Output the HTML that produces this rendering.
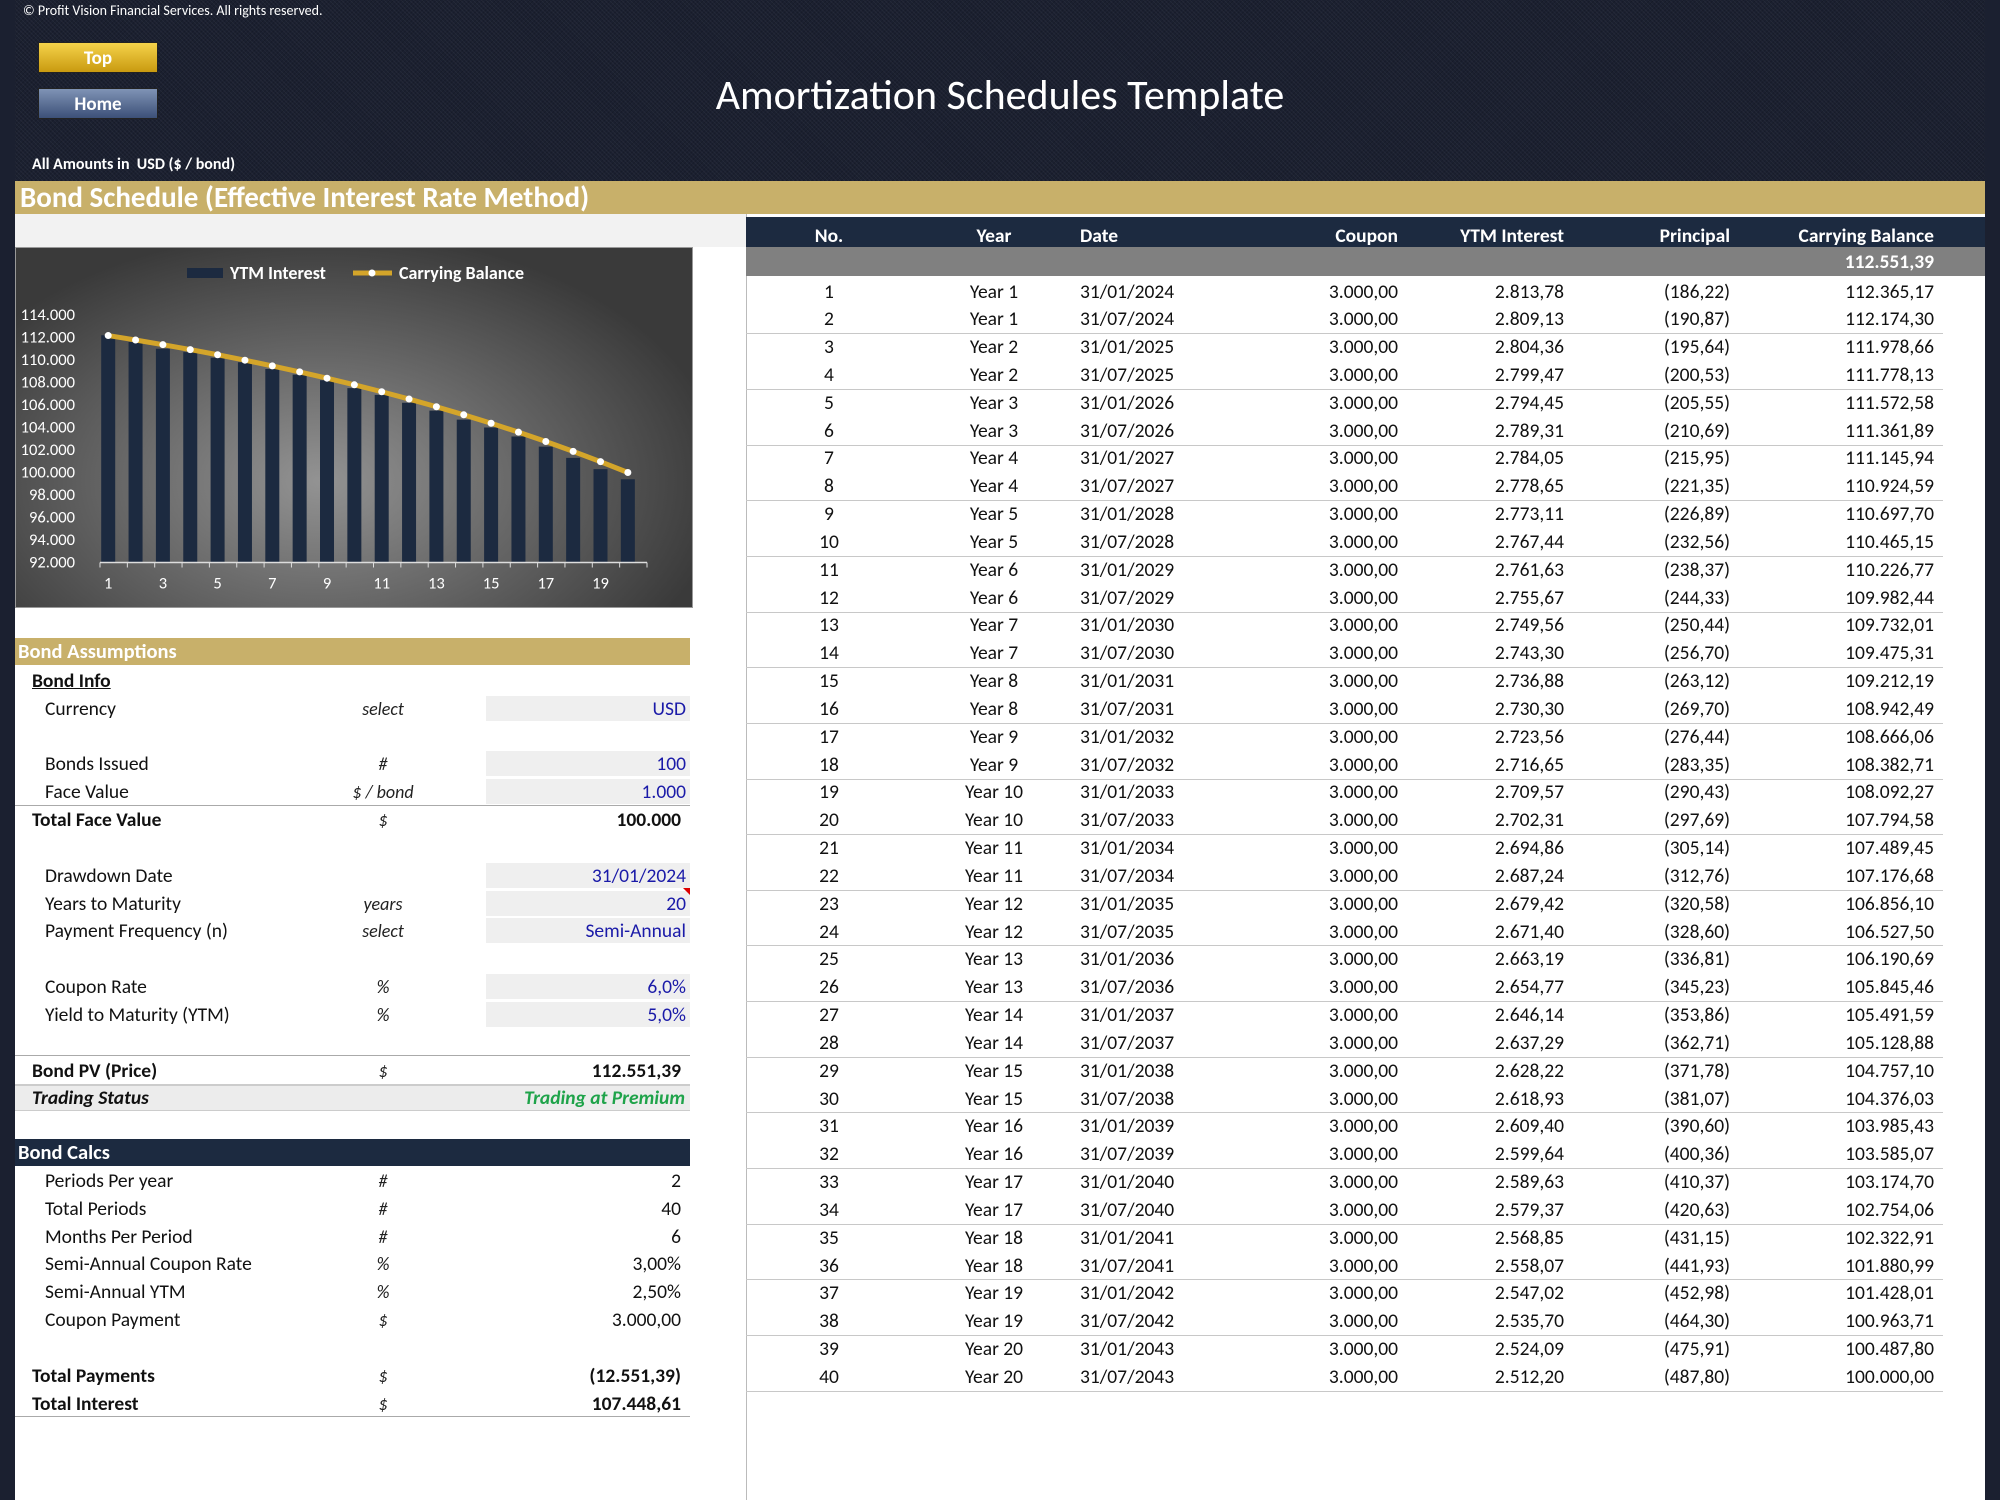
<!DOCTYPE html>
<html><head><meta charset="utf-8">
<style>
*{margin:0;padding:0;box-sizing:border-box}
body{width:2000px;height:1500px;position:relative;overflow:hidden;background:#fff;font-family:Calibri,"Liberation Sans",sans-serif;}
.abs{position:absolute}
#topbg{left:0;top:0;width:2000px;height:181px;background:#1b2030;background-image:repeating-linear-gradient(45deg,rgba(255,255,255,0.04) 0 1px,transparent 1px 3px),repeating-linear-gradient(-45deg,rgba(0,0,0,0.15) 0 1px,transparent 1px 3px)}
#leftstrip{left:0;top:0;width:15px;height:1500px;background:#1b2030}
#rightstrip{left:1985px;top:0;width:15px;height:1500px;background:#1b2030}
.btn{position:absolute;left:38px;width:120px;height:31px;color:#fff;font-weight:bold;font-size:19px;text-align:center;line-height:31px;border:1px solid #222}
.lbl{position:absolute;font-size:19.5px;color:#111;white-space:nowrap;transform:translateY(-50%)}
.unit{position:absolute;font-size:18px;font-style:italic;color:#222;transform:translate(-50%,-50%)}
.val{position:absolute;font-size:19.5px;color:#111;text-align:right;transform:translateY(-50%);white-space:nowrap}
.blue{color:#1a1aa8}
.tcell{position:absolute;font-size:19.5px;color:#111;white-space:nowrap;transform:translateY(-50%)}
</style></head><body>
<div class="abs" id="topbg"></div>
<div class="abs" id="leftstrip"></div>
<div class="abs" id="rightstrip"></div>
<div class="abs" style="left:23px;top:2px;color:#fff;font-size:14px">© Profit Vision Financial Services. All rights reserved.</div>
<div class="btn" style="top:42px;background:linear-gradient(#f5d34a,#c99a10);color:#fff">Top</div>
<div class="btn" style="top:88px;background:linear-gradient(#7f93b5,#3c5078)">Home</div>
<div class="abs" style="left:0;width:2000px;top:70px;text-align:center;color:#fff;font-size:42px">Amortization Schedules Template</div>
<div class="abs" style="left:32px;top:155px;color:#fff;font-size:16px;font-weight:bold">All Amounts in&nbsp; USD ($ / bond)</div>
<div class="abs" style="left:15px;top:181px;width:1970px;height:33px;background:#c8b06a;color:#fff;font-weight:bold;font-size:29px;line-height:33px;padding-left:5px">Bond Schedule (Effective Interest Rate Method)</div>
<div class="abs" style="left:15px;top:214px;width:731px;height:33px;background:#f2f2f2"></div>
<div class="abs" style="left:746px;top:214px;width:1px;height:1286px;background:#bbb"></div>

<div class="abs" style="left:15px;top:247px;width:678px;height:361px;border:1px solid #999;background:radial-gradient(ellipse 60% 70% at 45% 65%,#939393,#3a3a3a)">
<svg id="chart" width="678" height="361" style="position:absolute;left:-1px;top:-1px"></svg>
</div>

<div class="abs" style="left:746px;top:217px;width:1239px;height:30px;background:#1c2a40"></div>
<div class="abs" style="left:746px;top:247px;width:1239px;height:29px;background:#808080"></div>
<div class="abs" style="left:1700px;width:234px;top:250px;text-align:right;color:#fff;font-weight:bold;font-size:19.5px">112.551,39</div>
<div id="tbl"></div>

<div class="abs" style="left:15px;top:638px;width:675px;height:27px;background:#c8b06a;color:#fff;font-weight:bold;font-size:20.5px;line-height:27px;padding-left:3px">Bond Assumptions</div>
<div class="abs" style="left:15px;top:1139px;width:675px;height:27px;background:#1c2a40;color:#fff;font-weight:bold;font-size:20.5px;line-height:27px;padding-left:3px">Bond Calcs</div>
<div class="abs" style="left:15px;top:1084px;width:675px;height:27px;background:#ececec;border-top:2px solid #ccc;border-bottom:1px solid #ccc"></div>
<div id="left"></div>

<script>
const categories=[1,2,3,4,5,6,7,8,9,10,11,12,13,14,15,16,17,18,19,20];
const barValues=[112200,111600,111000,110700,110200,109800,109200,108700,108200,107500,106900,106200,105500,104700,104000,103200,102300,101300,100300,99400];
const lineValues=[112174,111778,111362,110925,110465,109982,109475,108942,108383,107795,107177,106528,105845,105129,104376,103585,102754,101881,100964,100000];
const yTicks=[92000,94000,96000,98000,100000,102000,104000,106000,108000,110000,112000,114000];
const xTickLabels=["1","3","5","7","9","11","13","15","17","19"];
const NS="http://www.w3.org/2000/svg";
const svg=document.getElementById('chart');
const X0=85,X1=632,Y0=315.5,Y1=68,YMIN=92000,YMAX=114000;
const band=(X1-X0)/categories.length;
const xs=i=>X0+band*(i+0.3);
const ys=v=>Y0-(v-YMIN)/(YMAX-YMIN)*(Y0-Y1);
function mk(t,a){const e=document.createElementNS(NS,t);for(const k in a)e.setAttribute(k,a[k]);svg.appendChild(e);return e;}
yTicks.forEach(v=>{const t=mk('text',{x:60,y:ys(v)+5,'text-anchor':'end',fill:'#fff','font-size':16.5,'font-family':'Calibri,Liberation Sans,sans-serif'});t.textContent=String(v).replace(/\B(?=(\d{3})+(?!\d))/g,'.');

});
barValues.forEach((v,i)=>{const r=mk('rect',{x:xs(i)-7,y:ys(v),width:14,height:Y0-ys(v),fill:'#1c2a40'});

});
const ax=mk('line',{x1:X0,x2:X1,y1:Y0,y2:Y0,stroke:'#ddd','stroke-width':1.5});


for(let i=0;i<=categories.length;i++){const tk=mk('line',{x1:X0+band*i,x2:X0+band*i,y1:Y0,y2:Y0+5,stroke:'#ddd'});

}
xTickLabels.forEach((s,j)=>{const t=mk('text',{x:xs(j*2),y:Y0+26,'text-anchor':'middle',fill:'#fff','font-size':16.5,'font-family':'Calibri,Liberation Sans,sans-serif'});t.textContent=s;

});
const pl=mk('polyline',{points:lineValues.map((v,i)=>xs(i)+','+ys(v)).join(' '),fill:'none',stroke:'#d4a52a','stroke-width':5});


lineValues.forEach((v,i)=>{const c=mk('circle',{cx:xs(i),cy:ys(v),r:3.5,fill:'#fff'});

});
const lb=mk('rect',{x:172,y:21,width:36,height:10,fill:'#1c2a40'});


const lt1=mk('text',{x:215,y:32,fill:'#fff','font-size':18,'font-weight':'bold','font-family':'Calibri,Liberation Sans,sans-serif'});lt1.textContent='YTM Interest';


const ll=mk('line',{x1:338,x2:377,y1:26,y2:26,stroke:'#d4a52a','stroke-width':5});


mk('circle',{cx:357,cy:26,r:3.5,fill:'#fff'});
const lt2=mk('text',{x:384,y:32,fill:'#fff','font-size':18,'font-weight':'bold','font-family':'Calibri,Liberation Sans,sans-serif'});lt2.textContent='Carrying Balance';



const ytm=[2813.78,2809.13,2804.36,2799.47,2794.45,2789.31,2784.05,2778.65,2773.11,2767.44,2761.63,2755.67,2749.56,2743.30,2736.88,2730.30,2723.56,2716.65,2709.57,2702.31,2694.86,2687.24,2679.42,2671.40,2663.19,2654.77,2646.14,2637.29,2628.22,2618.93,2609.40,2599.64,2589.63,2579.37,2568.85,2558.07,2547.02,2535.70,2524.09,2512.20];
const principal=[186.22,190.87,195.64,200.53,205.55,210.69,215.95,221.35,226.89,232.56,238.37,244.33,250.44,256.70,263.12,269.70,276.44,283.35,290.43,297.69,305.14,312.76,320.58,328.60,336.81,345.23,353.86,362.71,371.78,381.07,390.60,400.36,410.37,420.63,431.15,441.93,452.98,464.30,475.91,487.80];
const balance=[112365.17,112174.30,111978.66,111778.13,111572.58,111361.89,111145.94,110924.59,110697.70,110465.15,110226.77,109982.44,109732.01,109475.31,109212.19,108942.49,108666.06,108382.71,108092.27,107794.58,107489.45,107176.68,106856.10,106527.50,106190.69,105845.46,105491.59,105128.88,104757.10,104376.03,103985.43,103585.07,103174.70,102754.06,102322.91,101880.99,101428.01,100963.71,100487.80,100000.00];
const coupon=3000;
function fmt(v){const s=Math.abs(v).toFixed(2).split('.');return s[0].replace(/\B(?=(\d{3})+(?!\d))/g,'.')+','+s[1];}
const tbl=document.getElementById('tbl');
function cell(parent,txt,css,name){const d=document.createElement('div');d.className='tcell';d.style.cssText=css;d.textContent=txt;


parent.appendChild(d);return d;}
[['No.','left:789px;width:80px;text-align:center'],['Year','left:944px;width:100px;text-align:center'],['Date','left:1080px'],['Coupon','left:1248px;width:150px;text-align:right'],['YTM Interest','left:1394px;width:170px;text-align:right'],['Principal','left:1580px;width:150px;text-align:right'],['Carrying Balance','left:1714px;width:220px;text-align:right']].forEach(h=>{
cell(tbl,h[0],h[1]+';top:236px;color:#fff;font-weight:bold','column-header');});
for(let i=0;i<40;i++){const y=291.5+i*27.83;
const yr=2024+Math.floor(i/2);
cell(tbl,String(i+1),`left:789px;width:80px;text-align:center;top:${y}px`,'row-number');
cell(tbl,'Year '+(Math.floor(i/2)+1),`left:944px;width:100px;text-align:center;top:${y}px`,'row-year');
cell(tbl,(i%2?'31/07/':'31/01/')+yr,`left:1080px;top:${y}px`,'row-date');
cell(tbl,fmt(coupon),`left:1248px;width:150px;text-align:right;top:${y}px`,'row-coupon');
cell(tbl,fmt(ytm[i]),`left:1394px;width:170px;text-align:right;top:${y}px`,'row-ytm-interest');
cell(tbl,'('+fmt(principal[i])+')',`left:1580px;width:150px;text-align:right;top:${y}px`,'row-principal');
cell(tbl,fmt(balance[i]),`left:1714px;width:220px;text-align:right;top:${y}px`,'row-carrying-balance');
if(i%2==1){const l=document.createElement('div');l.className='abs';l.style.cssText=`left:746px;width:1197px;height:1px;background:#c8c8c8;top:${Math.round(y+13.9)}px`;


tbl.appendChild(l);}}

const left=document.getElementById('left');
const rowsA=[[0,'Bond Info','','','hdr',0],[1,'Currency','select','USD','',1],[3,'Bonds Issued','#','100','',1],[4,'Face Value','$ / bond','1.000','',1],[5,'Total Face Value','$','100.000','b',0],[7,'Drawdown Date','','31/01/2024','',1],[8,'Years to Maturity','years','20','',1],[9,'Payment Frequency (n)','select','Semi-Annual','',1],[11,'Coupon Rate','%','6,0%','',1],[12,'Yield to Maturity (YTM)','%','5,0%','',1],[14,'Bond PV (Price)','$','112.551,39','b',0],[15,'Trading Status','','Trading at Premium','ts',0]];
const rowsB=[[0,'Periods Per year','#','2',''],[1,'Total Periods','#','40',''],[2,'Months Per Period','#','6',''],[3,'Semi-Annual Coupon Rate','%','3,00%',''],[4,'Semi-Annual YTM','%','2,50%',''],[5,'Coupon Payment','$','3.000,00',''],[7,'Total Payments','$','(12.551,39)','b'],[8,'Total Interest','$','107.448,61','b']];
function el(css,cls,txt,name,inter){const d=document.createElement('div');d.className=cls;d.style.cssText=css;d.textContent=txt;


left.appendChild(d);return d;}
function addRow(base,r,blueIn){const y=base+r[0]*27.83;const kind=r[4];
const bold=kind==='b'||kind==='hdr'||kind==='ts';
let css=`left:${bold?32:45}px;top:${y}px;`+(bold?'font-weight:bold;':'')+(kind==='hdr'?'text-decoration:underline;':'')+(kind==='ts'?'font-style:italic;':'');
el(css,'lbl',r[1],'label-'+r[1].toLowerCase().replace(/[^a-z]+/g,'-'),'false');
if(r[2])el(`left:383px;top:${y}px`,'unit',r[2],'unit-label','false');
if(blueIn){el(`left:486px;top:${y-13}px;width:204px;height:26px;background:#efefef;border-bottom:1px solid #fff`,'abs','','input-box','true');}
if(r[3]){let vc=`left:440px;width:${blueIn?246:241}px;top:${y}px;`+(bold?'font-weight:bold;':'');
if(kind==='ts')vc+='color:#1fa34a;font-style:italic;width:245px;';
el(vc,'val'+(blueIn?' blue':''),r[3],'value-'+r[1].toLowerCase().replace(/[^a-z]+/g,'-'),blueIn?'true':'false');}}
rowsA.forEach(r=>addRow(681,r,r[5]));
rowsB.forEach(r=>addRow(1181,r,0));
[[805],[1055],[1416]].forEach(l=>{el(`left:15px;top:${l[0]}px;width:675px;height:1px;background:#aaa`,'abs','','divider-line','false');});
el('left:683px;top:888px;width:0;height:0;border-left:7px solid transparent;border-top:7px solid #d00','abs','','comment-marker','false');
</script>
</body></html>
